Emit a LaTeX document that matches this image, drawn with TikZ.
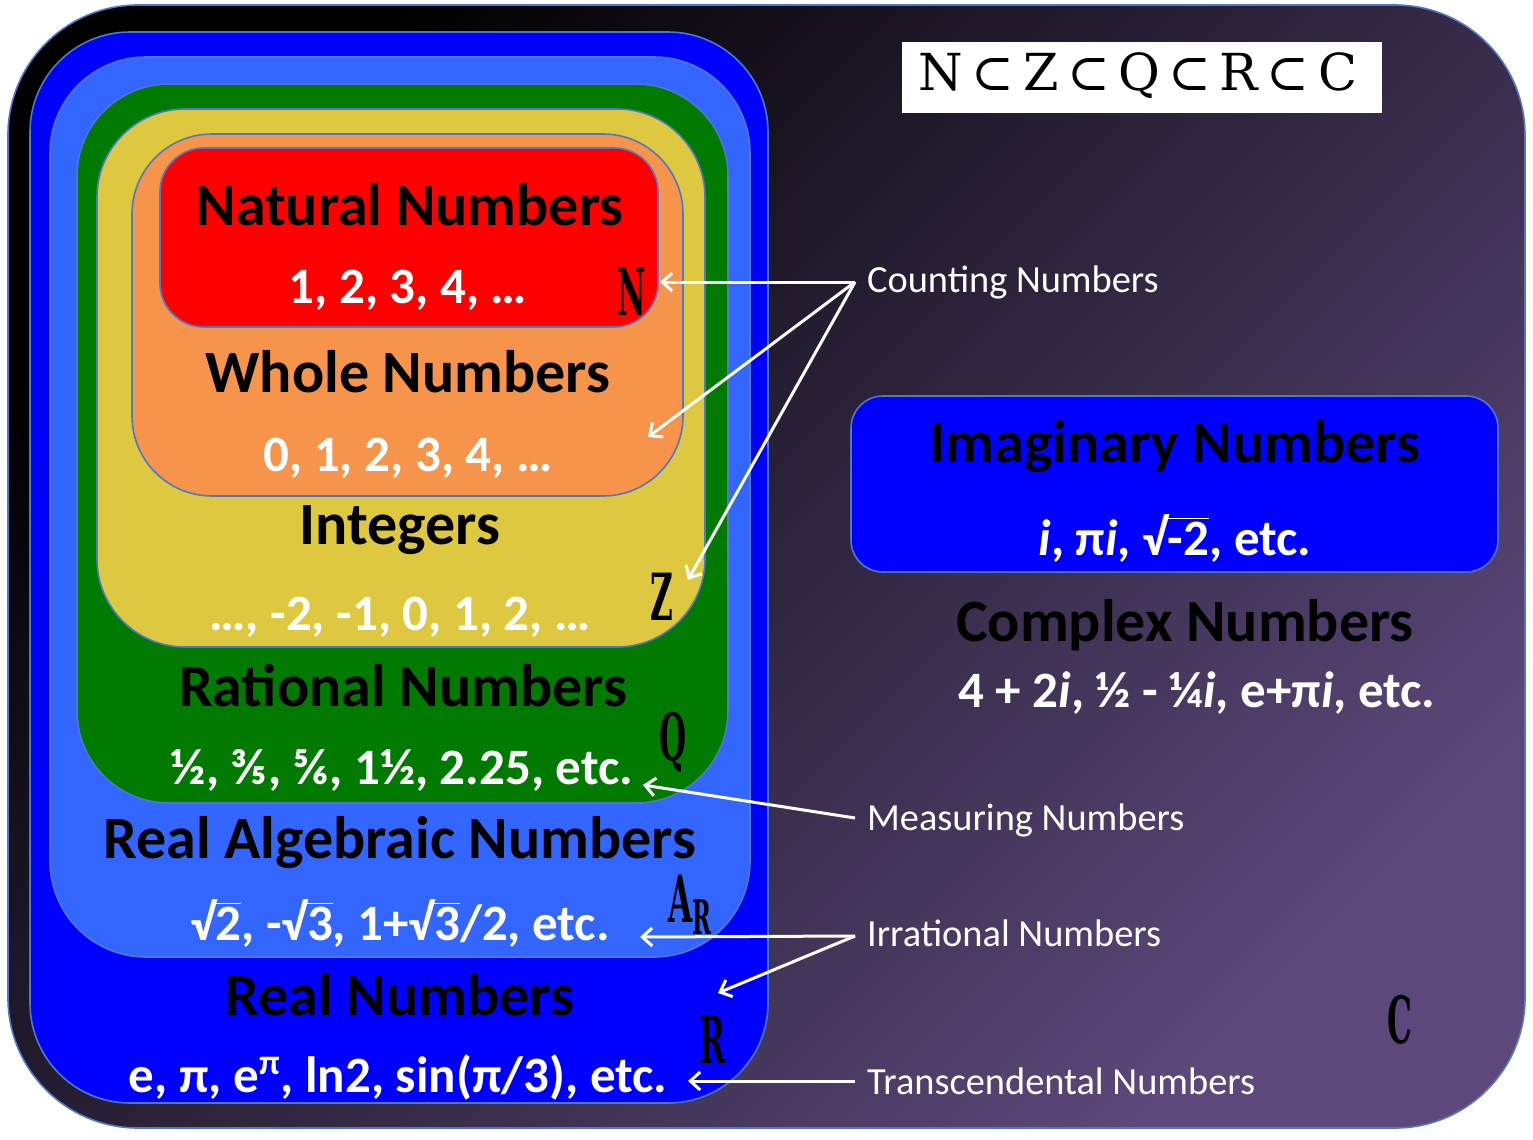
\documentclass[tikz,border=0pt]{standalone}
\usepackage{fontspec}
\setmainfont{Carlito}
\newfontfamily\serf{DejaVu Serif}
\usetikzlibrary{arrows.meta}
\begin{document}
\begin{tikzpicture}[x=0.5pt,y=-0.5pt,
  setbox/.style={draw={rgb,255:red,80;green,120;blue,200},line width=0.8pt},
  big/.style={font=\bfseries\fontsize{30}{34}\selectfont,text=black},
  ex/.style={font=\bfseries\fontsize{25.5}{30}\selectfont,text=white},
  lab/.style={font=\fontsize{19.2}{23}\selectfont,text=white,anchor=west},
  sym/.style={font=\serf\bfseries\fontsize{26}{30}\selectfont,text=black},
  arr/.style={white,line width=1.5pt,-{Straight Barb[length=5pt,width=9pt]}}]
\useasboundingbox (0,0) rectangle (1533,1140);
\definecolor{purp}{RGB}{92,72,122}
\shade[setbox,top color=black,bottom color=purp,shading angle=45,rounded corners=65pt] (8,5) rectangle (1525,1128);
\draw[setbox,fill={rgb,255:red,0;green,0;blue,255},rounded corners=50pt] (30,32) rectangle (768,1103);
\draw[setbox,fill={rgb,255:red,51;green,102;blue,255},rounded corners=48pt] (50,57) rectangle (750,957);
\draw[setbox,fill={rgb,255:red,0;green,122;blue,0},rounded corners=46pt] (77,84) rectangle (728,803);
\draw[setbox,fill={rgb,255:red,221;green,200;blue,64},rounded corners=44pt] (97,109) rectangle (705,647);
\draw[setbox,fill={rgb,255:red,245;green,148;blue,74},rounded corners=40pt] (132,134) rectangle (683,496);
\draw[setbox,fill=red,rounded corners=22pt] (160,148) rectangle (658,327);
\draw[setbox,fill={rgb,255:red,0;green,0;blue,255},rounded corners=16pt] (851,396) rectangle (1498,572);
\fill[white] (902,42) rectangle (1382,113);
\node[font=\serf\fontsize{25.5}{30}\selectfont] (chain) at (1138,76) {N\,⊂\,Z\,⊂\,Q\,⊂\,R\,⊂\,C};

\node[big] (nat) at (410,205) {Natural Numbers};
\node[ex] (natx) at (408,290) {1, 2, 3, 4, …};
\node[sym] (N) at (632,292) {\scalebox{0.6}[1.25]{N}};
\node[big] (who) at (408,372) {Whole Numbers};
\node[ex] (whox) at (408,458) {0, 1, 2, 3, 4, …};
\node[big] (int) at (400,530) {Integers};
\node[ex] (intx) at (400,617) {…, -2, -1, 0, 1, 2, …};
\node[sym] (Z) at (662,597) {\scalebox{0.6}[1.25]{Z}};
\node[big] (rat) at (403,686) {Rational Numbers};
\node[ex] (ratx) at (402,770) {½, ⅗, ⅚, 1½, 2.25, etc.};
\node[sym] (Q) at (673,742) {\scalebox{0.6}[1.25]{Q}};
\node[big] (alg) at (400,843) {Real Algebraic Numbers};
\node[ex] (algx) at (400,923) {√$\overline{\hbox{2}}$, -√$\overline{\hbox{3}}$, 1+√$\overline{\hbox{3}}$/2, etc.};
\node[sym] (A) at (690,905) {\scalebox{0.6}[1.25]{A\raisebox{-0.35ex}{\fontsize{19}{22}\selectfont R}}};
\node[big] (rea) at (400,995) {Real Numbers};
\node[ex] (reax) at (398,1077) {e, π, e\textsuperscript{π}, ln2, sin(π/3), etc.};
\node[sym] (R) at (712,1040) {\scalebox{0.6}[1.25]{R}};
\node[big] (ima) at (1175,447) {Imaginary Numbers};
\node[ex] (imax) at (1175,538) {\itshape i\upshape, π\itshape i\upshape, √$\overline{\hbox{\bfseries -2}}$, etc.};
\node[big] (com) at (1185,625) {Complex Numbers};
\node[ex] (comx) at (1197,693) {4 + 2\itshape i\upshape, ½ - ¼\itshape i\upshape, e+π\itshape i\upshape, etc.};
\node[sym] (C) at (1400,1020) {\scalebox{0.6}[1.25]{C}};

\node[lab] (cnt) at (860,282) {Counting Numbers};
\node[lab] (mea) at (860,820) {Measuring Numbers};
\node[lab] (irr) at (860,933) {Irrational Numbers};
\node[lab] (tra) at (860,1081) {Transcendental Numbers};
\coordinate (c0) at (855,282);
\coordinate (m0) at (855,818);
\coordinate (i0) at (855,936);
\coordinate (t0) at (855,1081);
\coordinate (cN) at (660,282);
\coordinate (cW) at (648,437);
\coordinate (cZ) at (688,580);
\coordinate (mQ) at (643,785);
\coordinate (iA) at (640,937);
\coordinate (iR) at (718,993);
\coordinate (tR) at (688,1081);
\draw[arr] (c0) -- (cN);
\draw[arr] (c0) -- (cW);
\draw[arr] (c0) -- (cZ);
\draw[arr] (m0) -- (mQ);
\draw[arr] (i0) -- (iA);
\draw[arr] (i0) -- (iR);
\draw[arr] (t0) -- (tR);
\end{tikzpicture}
\end{document}
